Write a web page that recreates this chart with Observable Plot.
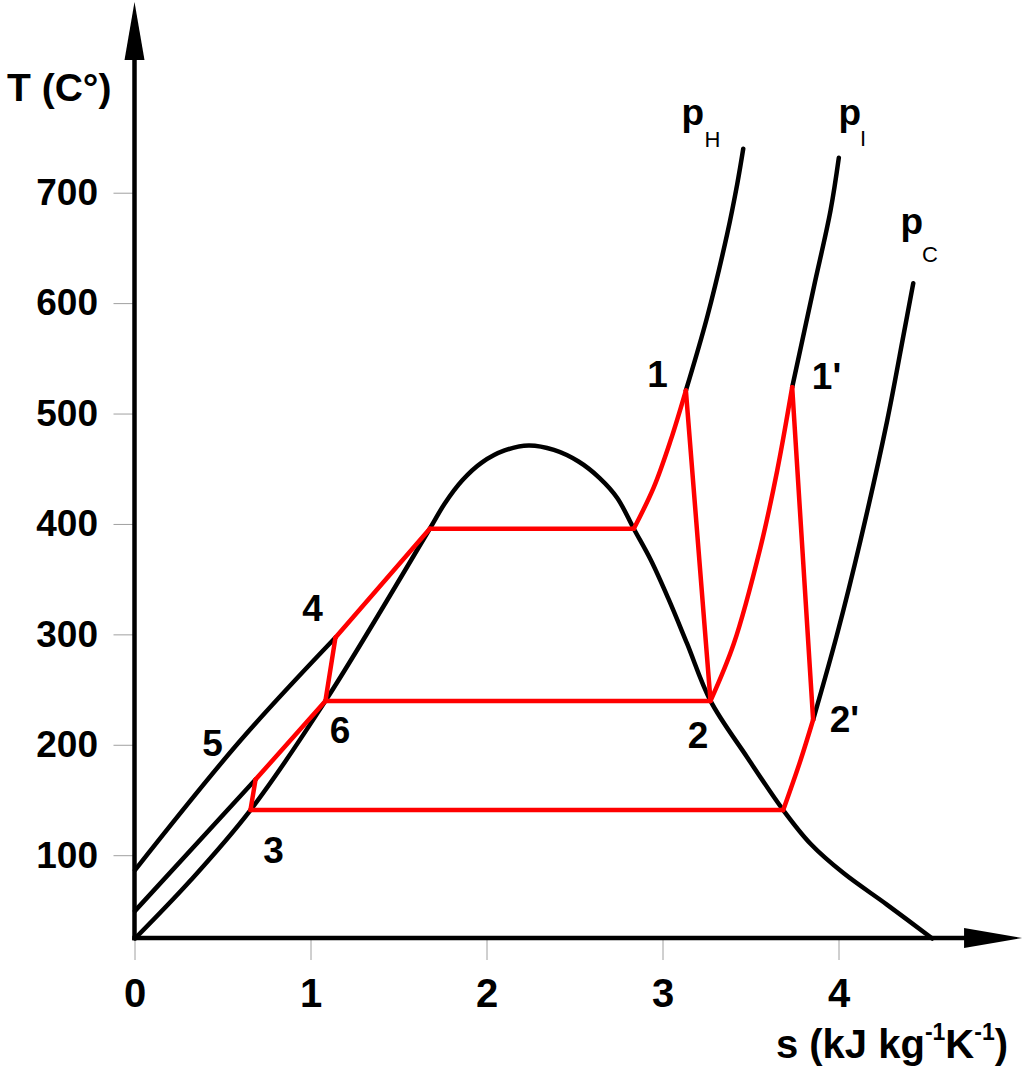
<!DOCTYPE html>
<html><head><meta charset="utf-8">
<script src="https://cdn.jsdelivr.net/npm/d3@7"></script>
<script src="https://cdn.jsdelivr.net/npm/@observablehq/plot@0.6"></script>
<style>body{margin:0;background:#fff}#chart{width:1024px;height:1069px}</style>
</head><body><div id="chart"></div>
<script>
// ---- axes / ticks ----
const sTicks = [0, 1, 2, 3, 4];
const TTicks = [100, 200, 300, 400, 500, 600, 700];
const axisT = 25;        // T at which the s-axis is drawn
const sTip = 5.043;      // s at the arrow tip of the s-axis
const TTip = 872.7;      // T at the arrow tip of the T-axis

// ---- saturation dome (s, T) ----
const dome = [[0,25],[0.315,77.5],[0.656,141.3],[1.082,240.2],[1.675,396.1],[1.76,419],[1.86,440],[1.97,456],[2.10,467],[2.237,471.5],[2.38,467.5],[2.52,457],[2.64,442],[2.74,424],[2.834,396.1],[2.93,368],[3.03,333],[3.137,292],[3.270,240.2],[3.478,189.2],[3.683,141.3],[3.838,110.8],[4.027,84],[4.274,55.5],[4.530,25]];

// ---- isobars (black) ----
const liquidH = [[0,87],[0.599,204.3],[1.139,297.6]];
const liquidI = [[0,50],[0.685,169]];
const vaporH = [[3.13,521.3],[3.251,587.9],[3.365,663.3],[3.422,708.5],[3.456,740.3]];
const vaporI = [[3.734,524.3],[3.857,614.9],[3.952,684.4],[3.999,732.1]];
const vaporC = [[3.853,223.1],[3.99,301],[4.122,385.5],[4.274,494.2],[4.368,572.7],[4.422,618.5]];

// ---- cycle (red) ----
const pump3a = [[0.656,141.3],[0.685,169]];
const heatA6 = [[0.685,169],[1.082,240.2]];
const pump64 = [[1.082,240.2],[1.139,297.6]];
const heat4b = [[1.139,297.6],[1.675,396.1]];
const evapH = [[1.675,396.1],[2.834,396.1]];
const superH = [[2.834,396.1],[2.948,433.8],[3.043,476.0],[3.13,521.3]];
const exp12 = [[3.13,521.3],[3.27,240.2]];
const evapI = [[1.082,240.2],[3.27,240.2]];
const superI = [[3.27,240.2],[3.402,291.9],[3.554,379.4],[3.649,448.9],[3.734,524.3]];
const exp12p = [[3.734,524.3],[3.853,223.1]];
const coolC = [[3.853,223.1],[3.781,186.2],[3.683,141.3]];
const condC = [[3.683,141.3],[0.656,141.3]];

// ---- labels ----
const pointNames = ["1", "1'", "2", "2'", "3", "4", "5", "6"];
const pointS = [2.969, 3.929, 3.199, 4.031, 0.787, 1.009, 0.440, 1.165];
const pointT = [524.1, 523.1, 197.1, 211.6, 93.8, 313, 190.7, 202.5];
const pNames = ["p", "p", "p"];
const pSubs = ["H", "I", "C"];
const pS = [3.105, 3.997, 4.349];
const pT = [762.2, 762.2, 662.6];
const subS = [3.236, 4.119, 4.471];
const subT = [741.4, 742.3, 637.3];
const yTitle = "T (C°)";
const xTitleParts = ["s (kJ kg", "-1", "K", "-1", ")"];

const rows = (name, pts) => pts.map(([s, T]) => ({name, s, T}));
const blackRows = [
  ...rows("dome", dome), ...rows("liquidH", liquidH), ...rows("liquidI", liquidI),
  ...rows("vaporH", vaporH), ...rows("vaporI", vaporI), ...rows("vaporC", vaporC)
];
const redRows = [
  ...rows("a", pump3a), ...rows("b", heatA6), ...rows("c", pump64), ...rows("d", heat4b),
  ...rows("e", evapH), ...rows("f", superH), ...rows("g", exp12), ...rows("h", evapI),
  ...rows("i", superI), ...rows("j", exp12p), ...rows("k", coolC), ...rows("l", condC)
];
const pointRows = pointNames.map((t, i) => ({t, s: pointS[i], T: pointT[i]}));
const pRows = pNames.map((t, i) => ({t, sub: pSubs[i], s: pS[i], T: pT[i], ss: subS[i], st: subT[i]}));

function axesWithArrows(index, scales, values, dims) {
  const g = d3.create("svg:g");
  const x0 = scales.x(0), y0 = scales.y(axisT);
  const xT = scales.x(sTip), yT = scales.y(TTip);
  const L = 58, W = 10;
  g.append("path").attr("d", `M${x0},${y0}H${xT - L + 4}`).attr("stroke", "black").attr("stroke-width", 4.5).attr("stroke-linecap", "square").attr("fill", "none");
  g.append("path").attr("d", `M${x0},${y0}V${yT + L - 4}`).attr("stroke", "black").attr("stroke-width", 4.5).attr("stroke-linecap", "square").attr("fill", "none");
  g.append("path").attr("d", `M${xT},${y0}L${xT - L},${y0 - W}L${xT - L},${y0 + W}Z`).attr("fill", "black");
  g.append("path").attr("d", `M${x0},${yT}L${x0 - W},${yT + L}L${x0 + W},${yT + L}Z`).attr("fill", "black");
  return g.node();
}

function xTitle(index, scales, values, dims) {
  const t = d3.create("svg:text")
    .attr("x", dims.width - dims.marginRight - 6.5)
    .attr("y", dims.height - dims.marginBottom + 120)
    .attr("text-anchor", "end")
    .attr("font-size", 40).attr("font-weight", "bold").attr("fill", "black");
  xTitleParts.forEach((p, i) => {
    const sup = i % 2 === 1;
    const prevSup = i > 0 && (i - 1) % 2 === 1;
    const ts = t.append("tspan").text(p).attr("font-size", sup ? 23 : 40);
    if (sup) ts.attr("dy", -18);
    else if (prevSup) ts.attr("dy", 18);
  });
  return t.node();
}

const chart = Plot.plot({
  width: 1024,
  height: 1069,
  marginLeft: 134.5,
  marginRight: 9.5,
  marginTop: 5,
  marginBottom: 131,
  x: {domain: [0, 5]},
  y: {domain: [25, 870]},
  style: {fontFamily: "'Liberation Sans', Arial, sans-serif", background: "white", overflow: "visible"},
  marks: [
    Plot.axisY({ticks: TTicks, tickFormat: d => String(d), anchor: "left", tickSize: 21, tickPadding: 16, stroke: "#a0a0a0", strokeWidth: 1, fill: "black", fontSize: 37, fontWeight: "bold", label: null}),
    Plot.axisX({ticks: sTicks, tickFormat: d => String(d), anchor: "bottom", tickSize: 22, tickPadding: 18, stroke: "#a0a0a0", strokeWidth: 1, fill: "black", fontSize: 40, fontWeight: "bold", label: null}),
    axesWithArrows,
    Plot.line(blackRows, {x: "s", y: "T", z: "name", stroke: "black", strokeWidth: 4.5, curve: "catmull-rom"}),
    Plot.line(redRows, {x: "s", y: "T", z: "name", stroke: "#ff0000", strokeWidth: 4.5, curve: "catmull-rom"}),
    Plot.text(pointRows, {x: "s", y: "T", text: "t", textAnchor: "middle", lineAnchor: "bottom", fontSize: 37, fontWeight: "bold", fill: "black"}),
    Plot.text(pRows, {x: "s", y: "T", text: "t", textAnchor: "start", lineAnchor: "bottom", fontSize: 37, fontWeight: "bold", fill: "black"}),
    Plot.text(pRows, {x: "ss", y: "st", text: "sub", textAnchor: "start", lineAnchor: "bottom", fontSize: 22, fill: "black"}),
    Plot.text([yTitle], {frameAnchor: "top-left", text: d => d, dx: -128, dy: 95, textAnchor: "start", lineAnchor: "bottom", fontSize: 39, fontWeight: "bold", fill: "black"}),
    xTitle
  ]
});
document.getElementById("chart").append(chart);
</script>
</body></html>
